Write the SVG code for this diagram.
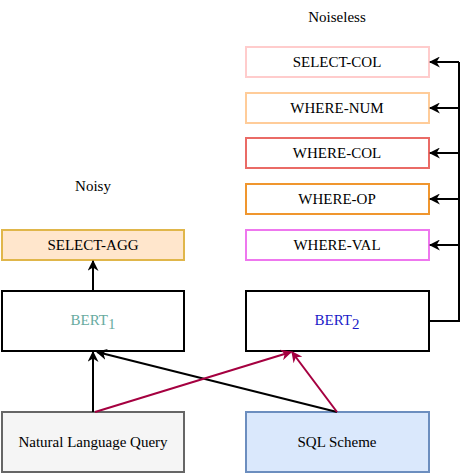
<svg xmlns="http://www.w3.org/2000/svg" width="474" height="476" viewBox="0 0 474 476">
<defs>
<marker id="ak" viewBox="0 0 10 10" refX="9" refY="5" markerWidth="11" markerHeight="11" orient="auto" markerUnits="userSpaceOnUse">
<path d="M0,0 L10,5 L0,10 L3,5 z" fill="#000"/>
</marker>
<marker id="ap" viewBox="0 0 10 10" refX="9" refY="5" markerWidth="11" markerHeight="11" orient="auto" markerUnits="userSpaceOnUse">
<path d="M0,0 L10,5 L0,10 L3,5 z" fill="#a50040"/>
</marker>
</defs>
<rect width="474" height="476" fill="#fff"/>
<text x="93" y="191" font-family="Liberation Serif" font-size="15" text-anchor="middle">Noisy</text>
<text x="337" y="22" font-family="Liberation Serif" font-size="15" text-anchor="middle">Noiseless</text>
<g id="selectagg"><rect x="2" y="230" width="182" height="30" fill="#ffe6cc" stroke="#e0b64a" stroke-width="2"/><text x="93" y="250" font-family="Liberation Serif" font-size="15" text-anchor="middle">SELECT-AGG</text></g>
<g id="bert1"><rect x="2" y="291" width="182" height="60" fill="#fff" stroke="#000" stroke-width="2"/><text x="93" y="325" font-family="Liberation Serif" font-size="15" text-anchor="middle" fill="#67ab9f">BERT<tspan dy="4">1</tspan></text></g>
<g id="selectcol"><rect x="246" y="47" width="183" height="30" fill="#fff" stroke="#ffcccc" stroke-width="2"/><text x="337" y="67" font-family="Liberation Serif" font-size="15" text-anchor="middle">SELECT-COL</text></g>
<g id="wherenum"><rect x="246" y="93" width="183" height="30" fill="#fff" stroke="#ffcc99" stroke-width="2"/><text x="337" y="113" font-family="Liberation Serif" font-size="15" text-anchor="middle">WHERE-NUM</text></g>
<g id="wherecol"><rect x="246" y="138" width="183" height="30" fill="#fff" stroke="#ea6b66" stroke-width="2"/><text x="337" y="158" font-family="Liberation Serif" font-size="15" text-anchor="middle">WHERE-COL</text></g>
<g id="whereop"><rect x="246" y="184" width="183" height="30" fill="#fff" stroke="#f0962e" stroke-width="2"/><text x="337" y="204" font-family="Liberation Serif" font-size="15" text-anchor="middle">WHERE-OP</text></g>
<g id="whereval"><rect x="246" y="230" width="183" height="30" fill="#fff" stroke="#ee77ee" stroke-width="2"/><text x="337" y="250" font-family="Liberation Serif" font-size="15" text-anchor="middle">WHERE-VAL</text></g>
<g id="bert2"><rect x="246" y="291" width="183" height="60" fill="#fff" stroke="#000" stroke-width="2"/><text x="337" y="325" font-family="Liberation Serif" font-size="15" text-anchor="middle" fill="#1a1ac8">BERT<tspan dy="4">2</tspan></text></g>
<g id="nlq"><rect x="2" y="412" width="182" height="60" fill="#f5f5f5" stroke="#666" stroke-width="2"/><text x="93" y="447" font-family="Liberation Serif" font-size="15" text-anchor="middle">Natural Language Query</text></g>
<g id="sql"><rect x="246" y="412" width="183" height="60" fill="#dae8fc" stroke="#6c8ebf" stroke-width="2"/><text x="337" y="447" font-family="Liberation Serif" font-size="15" text-anchor="middle">SQL Scheme</text></g>
<g id="connectors" fill="none" stroke-width="2">
<g stroke="#000">
<line x1="93" y1="291" x2="93" y2="261" marker-end="url(#ak)"/>
<path d="M429,321 H459 V62"/>
<line x1="459" y1="62" x2="430" y2="62" marker-end="url(#ak)"/>
<line x1="459" y1="108" x2="430" y2="108" marker-end="url(#ak)"/>
<line x1="459" y1="153" x2="430" y2="153" marker-end="url(#ak)"/>
<line x1="459" y1="199" x2="430" y2="199" marker-end="url(#ak)"/>
<line x1="459" y1="245" x2="430" y2="245" marker-end="url(#ak)"/>
<line x1="93" y1="412" x2="93" y2="352" marker-end="url(#ak)"/>
<line x1="337" y1="412" x2="97" y2="352" marker-end="url(#ak)"/>
</g>
<g stroke="#a50040">
<line x1="95" y1="412" x2="291" y2="352" marker-end="url(#ap)"/>
<line x1="337" y1="412" x2="292" y2="352" marker-end="url(#ap)"/>
</g>
</g>
</svg>
